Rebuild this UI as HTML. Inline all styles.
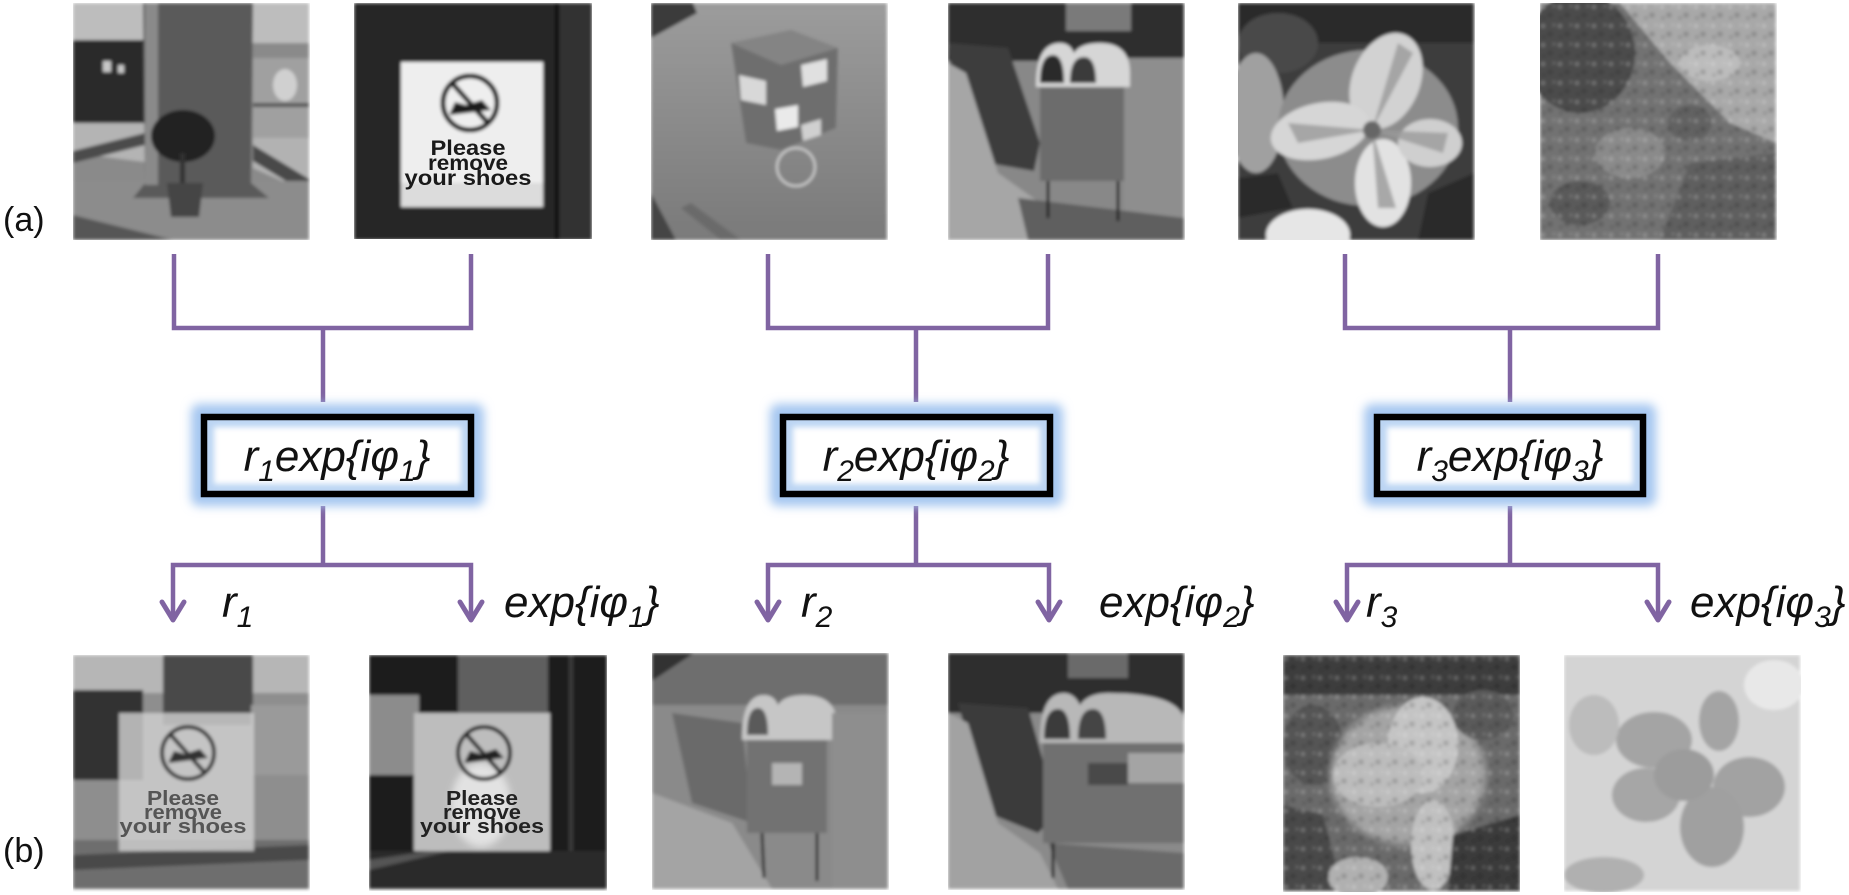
<!DOCTYPE html>
<html><head><meta charset="utf-8">
<style>
html,body{margin:0;padding:0;background:#fff;}
#c{position:relative;width:1849px;height:895px;overflow:hidden;background:#fff;}
svg{position:absolute;left:0;top:0;}
</style></head>
<body><div id="c">
<svg width="1849" height="895" viewBox="0 0 1849 895" xmlns="http://www.w3.org/2000/svg">
<defs>
  <filter id="bl" x="-5%" y="-5%" width="110%" height="110%"><feGaussianBlur stdDeviation="1.6"/></filter>
  <filter id="bl3" x="-20%" y="-20%" width="140%" height="140%"><feGaussianBlur stdDeviation="3.5"/></filter>
  <filter id="glow" x="-20%" y="-40%" width="140%" height="180%"><feGaussianBlur stdDeviation="5"/></filter>
  <filter id="ib" x="-10%" y="-20%" width="120%" height="140%"><feGaussianBlur stdDeviation="3"/></filter>
  <clipPath id="cl"><rect x="0" y="0" width="237" height="237"/></clipPath>
  <clipPath id="cl2"><rect x="0" y="0" width="238" height="236"/></clipPath>
  <pattern id="spk" width="17" height="19" patternUnits="userSpaceOnUse">
    <circle cx="3" cy="4" r="2.2" fill="#fff" opacity=".22"/>
    <circle cx="10" cy="12" r="2.8" fill="#000" opacity=".16"/>
    <circle cx="14" cy="3" r="1.5" fill="#fff" opacity=".18"/>
    <circle cx="4" cy="15" r="1.8" fill="#000" opacity=".14"/>
  </pattern>
</defs>

<!-- ===== TOP ROW IMAGES ===== -->
<!-- img1 -->
<g transform="translate(73,3)" clip-path="url(#cl)"><g filter="url(#bl)">
  <rect width="236" height="237" fill="#8a8a8a"/>
  <rect width="236" height="40" fill="#bdbdbd"/>
  <rect x="0" y="37" width="80" height="83" fill="#2a2a2a"/>
  <rect x="30" y="58" width="8" height="11" fill="#c8c8c8"/>
  <rect x="45" y="62" width="6" height="8" fill="#c8c8c8"/>
  <polygon points="0,120 80,120 80,160 0,150" fill="#b4b4b4"/>
  <polygon points="0,148 80,128 80,140 0,160" fill="#4c4c4c"/>
  <rect x="180" y="55" width="56" height="80" fill="#a0a0a0"/>
  <rect x="180" y="100" width="56" height="4" fill="#555"/>
  <ellipse cx="212" cy="82" rx="12" ry="16" fill="#d0d0d0"/>
  <polygon points="180,135 236,135 236,190 180,165" fill="#b2b2b2"/>
  <polygon points="180,142 236,176 236,192 180,158" fill="#484848"/>
  <rect x="0" y="178" width="236" height="59" fill="#8c8c8c"/>
  <polygon points="0,212 100,237 0,237" fill="#565656"/>
  <polygon points="70,0 180,0 178,180 196,195 60,195 72,180" fill="#5a5a5a"/>
  <rect x="72" y="0" width="13" height="182" fill="#8a8a8a"/>
  <ellipse cx="110" cy="133" rx="32" ry="26" fill="#242424"/>
  <rect x="107" y="150" width="5" height="32" fill="#333"/>
  <polygon points="94,180 130,180 126,214 98,214" fill="#444"/>
</g></g>

<!-- img2 -->
<g transform="translate(354,3)" clip-path="url(#cl2)">
  <g filter="url(#bl)">
  <rect width="238" height="237" fill="#252525"/>
  <rect x="205" y="0" width="33" height="237" fill="#303030"/>
  <rect x="201" y="0" width="4" height="237" fill="#111"/>
  <rect x="47" y="59" width="142" height="145" fill="#eeeeee"/>
  <rect x="47" y="180" width="142" height="24" fill="#dcdcdc"/>
  <circle cx="116" cy="100" r="27" fill="none" stroke="#1a1a1a" stroke-width="5"/>
  <path d="M96 110 L101 99 L112 102 L128 97 L137 107 L96 112 Z" fill="#1a1a1a"/>
  <line x1="98" y1="80" x2="134" y2="120" stroke="#1a1a1a" stroke-width="5"/>
  </g>
  <g font-family="Liberation Sans, Arial, sans-serif" font-weight="bold" font-size="21" fill="#1a1a1a" text-anchor="middle">
    <text x="114" y="152" textLength="75" lengthAdjust="spacingAndGlyphs">Please</text>
    <text x="114" y="167" textLength="80" lengthAdjust="spacingAndGlyphs">remove</text>
    <text x="114" y="182" textLength="127" lengthAdjust="spacingAndGlyphs">your shoes</text>
  </g>
</g>

<!-- img3 -->
<g transform="translate(651,3)" clip-path="url(#cl)"><g filter="url(#bl)">
  <defs><linearGradient id="g3" x1="0" y1="0" x2="0" y2="1"><stop offset="0" stop-color="#9c9c9c"/><stop offset="1" stop-color="#7a7a7a"/></linearGradient></defs>
  <rect width="236" height="237" fill="url(#g3)"/>
  <polygon points="0,0 42,0 46,10 0,35" fill="#3a3a3a"/>
  <polygon points="80,40 140,27 187,45 185,125 130,147 95,140" fill="#6e6e6e"/>
  <polygon points="80,40 140,27 187,45 130,62" fill="#848484"/>
  <polygon points="88,72 115,78 115,102 90,97" fill="#d8d8d8"/>
  <polygon points="150,62 176,56 176,78 152,84" fill="#e0e0e0"/>
  <polygon points="124,106 147,102 147,124 126,128" fill="#eaeaea"/>
  <polygon points="150,122 170,116 170,132 152,138" fill="#d0d0d0"/>
  <circle cx="145" cy="164" r="19" fill="none" stroke="#c8c8c8" stroke-width="2.5"/>
  <polygon points="0,190 25,237 0,237" fill="#444"/>
  <polygon points="40,200 90,237 70,237 30,205" fill="#6a6a6a"/>
</g></g>

<!-- img4 -->
<g transform="translate(948,3)" clip-path="url(#cl)"><g filter="url(#bl)">
  <rect width="236" height="237" fill="#888"/>
  <rect width="236" height="58" fill="#2f2f2f"/>
  <rect x="118" y="0" width="65" height="28" fill="#7a7a7a"/>
  <polygon points="0,40 60,45 92,140 86,168 40,160 8,100" fill="#3c3c3c"/>
  <polygon points="0,60 18,70 50,170 92,200 112,237 0,237" fill="#a6a6a6"/>
  <rect x="176" y="55" width="60" height="182" fill="#8e8e8e"/>
  <polygon points="70,195 236,215 236,237 80,237" fill="#5e5e5e"/>
  <rect x="92" y="78" width="84" height="100" fill="#6c6c6c"/>
  <path d="M88 82 Q88 40 112 40 Q122 40 126 50 Q132 40 152 40 Q182 40 182 70 L182 84 L88 84 Z" fill="#d6d6d6"/>
  <path d="M92 80 Q92 52 105 52 Q116 52 116 80 Z" fill="#2a2a2a"/>
  <path d="M122 80 Q122 54 136 54 Q148 54 148 80 Z" fill="#3a3a3a"/>
  <line x1="100" y1="178" x2="100" y2="215" stroke="#222" stroke-width="3"/>
  <line x1="170" y1="178" x2="170" y2="218" stroke="#222" stroke-width="3"/>
</g></g>

<!-- img5 -->
<g transform="translate(1238,3)" clip-path="url(#cl)"><g filter="url(#bl)">
  <rect width="236" height="237" fill="#3e3e3e"/>
  <rect width="236" height="40" fill="#2c2c2c"/>
  <ellipse cx="40" cy="40" rx="40" ry="30" fill="#4a4a4a"/>
  <ellipse cx="18" cy="110" rx="28" ry="60" fill="#a0a0a0"/>
  <ellipse cx="70" cy="232" rx="42" ry="26" fill="#e6e6e6"/>
  <ellipse cx="130" cy="125" rx="90" ry="78" fill="#8c8c8c"/>
  <ellipse cx="148" cy="78" rx="34" ry="50" fill="#d2d2d2" transform="rotate(22 148 78)"/>
  <ellipse cx="82" cy="128" rx="50" ry="28" fill="#d6d6d6" transform="rotate(-12 82 128)"/>
  <ellipse cx="145" cy="180" rx="28" ry="44" fill="#e2e2e2"/>
  <ellipse cx="192" cy="140" rx="32" ry="24" fill="#cfcfcf"/>
  <path d="M134 127 L160 40 L175 50 Z M134 127 L50 120 L60 140 Z M134 127 L140 205 L158 205 Z M134 127 L210 130 L205 150 Z" fill="#9a9a9a" opacity=".8"/>
  <circle cx="134" cy="127" r="9" fill="#666"/>
  <polygon points="190,190 236,170 236,237 180,237" fill="#2a2a2a"/>
  <polygon points="0,175 40,170 55,205 0,215" fill="#2c2c2c"/>
</g></g>

<!-- img6 -->
<g transform="translate(1540,3)" clip-path="url(#cl)"><g filter="url(#bl)">
  <rect width="236" height="237" fill="#727272"/>
  <polygon points="80,0 236,0 236,140 190,120 130,60" fill="#a8a8a8"/>
  <ellipse cx="40" cy="50" rx="55" ry="60" fill="#4c4c4c"/>
  <polygon points="150,160 236,150 236,237 120,237" fill="#5e5e5e"/>
  <ellipse cx="90" cy="150" rx="35" ry="25" fill="#8a8a8a"/>
  <ellipse cx="40" cy="200" rx="30" ry="22" fill="#5a5a5a"/>
  <ellipse cx="170" cy="60" rx="30" ry="18" fill="#bcbcbc"/>
  <ellipse cx="150" cy="120" rx="22" ry="18" fill="#626262"/>
  <rect width="236" height="237" fill="url(#spk)"/>
</g></g>

<!-- ===== BOTTOM ROW IMAGES ===== -->
<!-- b1 -->
<g transform="translate(73,655)" clip-path="url(#cl)">
  <g filter="url(#bl)">
  <rect width="236" height="234" fill="#8e8e8e"/>
  <rect width="236" height="38" fill="#b6b6b6"/>
  <rect x="0" y="35" width="70" height="90" fill="#333"/>
  <rect x="90" y="0" width="90" height="70" fill="#4a4a4a"/>
  <rect x="178" y="50" width="58" height="70" fill="#9a9a9a"/>
  <rect x="0" y="185" width="236" height="49" fill="#6e6e6e"/>
  <polygon points="0,200 236,190 236,205 0,215" fill="#4a4a4a"/>
  <rect x="46" y="58" width="135" height="138" fill="#d0d0d0" opacity="0.82"/>
  <circle cx="115" cy="98" r="26" fill="none" stroke="#333" stroke-width="4"/>
  <path d="M96 106 L101 96 L112 99 L127 94 L135 103 L96 108 Z" fill="#333"/>
  <line x1="98" y1="80" x2="132" y2="118" stroke="#333" stroke-width="4"/>
  </g>
  <g font-family="Liberation Sans, Arial, sans-serif" font-weight="bold" font-size="20" fill="#555" text-anchor="middle">
    <text x="110" y="150" textLength="72" lengthAdjust="spacingAndGlyphs">Please</text>
    <text x="110" y="164" textLength="78" lengthAdjust="spacingAndGlyphs">remove</text>
    <text x="110" y="178" textLength="127" lengthAdjust="spacingAndGlyphs">your shoes</text>
  </g>
</g>

<!-- b2 -->
<g transform="translate(369,655)" clip-path="url(#cl2)">
  <g filter="url(#bl)">
  <rect width="238" height="234" fill="#1e1e1e"/>
  <rect x="0" y="40" width="50" height="80" fill="#8c8c8c"/>
  <rect x="89" y="0" width="90" height="70" fill="#5e5e5e"/>
  <rect x="200" y="0" width="4" height="234" fill="#3a3a3a"/>
  <rect x="45" y="58" width="136" height="138" fill="#bdbdbd"/>
  <ellipse cx="112" cy="150" rx="30" ry="42" fill="#e2e2e2" filter="url(#bl3)"/>
  <circle cx="115" cy="98" r="26" fill="none" stroke="#222" stroke-width="4"/>
  <path d="M96 106 L101 96 L112 99 L127 94 L135 103 L96 108 Z" fill="#222"/>
  <line x1="98" y1="80" x2="132" y2="118" stroke="#222" stroke-width="4"/>
  <rect x="0" y="196" width="238" height="38" fill="#2a2a2a"/>
  <polygon points="0,205 60,196 80,196 0,215" fill="#555"/>
  </g>
  <g font-family="Liberation Sans, Arial, sans-serif" font-weight="bold" font-size="20" fill="#222" text-anchor="middle">
    <text x="113" y="150" textLength="72" lengthAdjust="spacingAndGlyphs">Please</text>
    <text x="113" y="164" textLength="78" lengthAdjust="spacingAndGlyphs">remove</text>
    <text x="113" y="178" textLength="124" lengthAdjust="spacingAndGlyphs">your shoes</text>
  </g>
</g>

<!-- b3 -->
<g transform="translate(652,653)" clip-path="url(#cl)"><g filter="url(#bl)">
  <rect width="236" height="236" fill="#8a8a8a"/>
  <rect width="236" height="52" fill="#6e6e6e"/>
  <polygon points="0,0 42,0 0,28" fill="#333"/>
  <polygon points="20,60 90,70 100,170 40,150" fill="#6a6a6a"/>
  <polygon points="0,140 80,170 120,236 0,236" fill="#a4a4a4"/>
  <rect x="95" y="85" width="80" height="95" fill="#727272"/>
  <rect x="120" y="110" width="30" height="22" fill="#b4b4b4"/>
  <path d="M90 85 Q90 42 112 42 Q122 42 126 52 Q132 42 152 42 Q185 42 185 72 L185 87 L90 87 Z" fill="#c6c6c6"/>
  <path d="M95 82 Q95 55 106 55 Q116 55 116 82 Z" fill="#5a5a5a"/>
  <rect x="180" y="60" width="56" height="176" fill="#8e8e8e"/>
  <line x1="110" y1="180" x2="112" y2="225" stroke="#333" stroke-width="3"/>
  <line x1="165" y1="180" x2="165" y2="228" stroke="#333" stroke-width="3"/>
</g></g>

<!-- b4 -->
<g transform="translate(948,653)" clip-path="url(#cl)"><g filter="url(#bl)">
  <rect width="236" height="236" fill="#8a8a8a"/>
  <rect width="236" height="60" fill="#2e2e2e"/>
  <rect x="120" y="0" width="60" height="25" fill="#6a6a6a"/>
  <polygon points="10,50 80,55 110,160 90,180 40,160" fill="#3a3a3a"/>
  <polygon points="0,60 20,70 50,170 92,200 110,236 0,236" fill="#a2a2a2"/>
  <rect x="95" y="85" width="141" height="105" fill="#707070"/>
  <rect x="140" y="110" width="40" height="22" fill="#4a4a4a"/>
  <rect x="180" y="100" width="56" height="30" fill="#a4a4a4"/>
  <path d="M92 88 Q92 40 116 40 Q126 40 132 52 Q140 40 160 40 Q236 40 236 70 L236 90 L92 90 Z" fill="#b8b8b8"/>
  <path d="M96 86 Q96 56 110 56 Q122 56 122 86 Z" fill="#3a3a3a"/>
  <path d="M130 86 Q130 56 145 56 Q158 56 158 86 Z" fill="#444"/>
  <polygon points="100,190 236,200 236,236 120,236" fill="#6a6a6a"/>
  <line x1="105" y1="190" x2="105" y2="225" stroke="#222" stroke-width="3"/>
</g></g>

<!-- b5 -->
<g transform="translate(1283,655)" clip-path="url(#cl)"><g filter="url(#bl)">
  <rect width="237" height="236" fill="#6a6a6a"/>
  <rect width="237" height="40" fill="#3c3c3c"/>
  <ellipse cx="30" cy="90" rx="30" ry="40" fill="#555"/>
  <ellipse cx="125" cy="120" rx="78" ry="70" fill="#a4a4a4" filter="url(#bl3)"/>
  <ellipse cx="140" cy="90" rx="35" ry="48" fill="#c4c4c4"/>
  <ellipse cx="95" cy="120" rx="45" ry="32" fill="#bcbcbc"/>
  <ellipse cx="150" cy="190" rx="22" ry="45" fill="#c0c0c0"/>
  <polygon points="170,180 237,160 237,236 165,236" fill="#3a3a3a"/>
  <polygon points="0,150 40,160 60,236 0,236" fill="#4a4a4a"/>
  <ellipse cx="75" cy="222" rx="30" ry="20" fill="#b0b0b0"/>
  <ellipse cx="200" cy="60" rx="30" ry="25" fill="#5a5a5a"/>
  <rect width="237" height="236" fill="url(#spk)"/>
</g></g>

<!-- b6 -->
<g transform="translate(1564,655)" clip-path="url(#cl)"><g filter="url(#bl)">
  <rect width="236" height="236" fill="#d4d4d4"/>
  <ellipse cx="90" cy="85" rx="38" ry="28" fill="#a4a4a4"/>
  <ellipse cx="155" cy="66" rx="20" ry="30" fill="#a4a4a4"/>
  <ellipse cx="185" cy="132" rx="36" ry="30" fill="#a2a2a2"/>
  <ellipse cx="148" cy="172" rx="32" ry="40" fill="#a0a0a0"/>
  <ellipse cx="82" cy="140" rx="34" ry="27" fill="#a6a6a6"/>
  <ellipse cx="120" cy="120" rx="30" ry="26" fill="#9c9c9c"/>
  <ellipse cx="40" cy="220" rx="40" ry="18" fill="#b0b0b0"/>
  <ellipse cx="30" cy="70" rx="25" ry="30" fill="#bcbcbc"/>
  <ellipse cx="210" cy="30" rx="30" ry="25" fill="#e8e8e8"/>
</g></g>

<!-- ===== CONNECTORS ===== -->
<g fill="none" stroke="#8064a2" stroke-width="4.5" stroke-linejoin="miter">
  <path d="M174 254 V328 H471 V254"/>
  <path d="M323 328 V402"/>
  <path d="M768 254 V328 H1048 V254"/>
  <path d="M916 328 V402"/>
  <path d="M1345 254 V328 H1658 V254"/>
  <path d="M1510 328 V402"/>

  <path d="M323 506 V565"/>
  <path d="M173 618 V565 H471 V618"/>
  <path d="M916 506 V565"/>
  <path d="M768 618 V565 H1049 V618"/>
  <path d="M1510 506 V565"/>
  <path d="M1347 618 V565 H1658 V618"/>
</g>
<g fill="none" stroke="#8064a2" stroke-width="5" stroke-linecap="round" stroke-linejoin="round">
  <polyline points="162,602 173,620 184,602"/>
  <polyline points="460,602 471,620 482,602"/>
  <polyline points="757,602 768,620 779,602"/>
  <polyline points="1038,602 1049,620 1060,602"/>
  <polyline points="1336,602 1347,620 1358,602"/>
  <polyline points="1647,602 1658,620 1669,602"/>
</g>

<!-- ===== BOXES ===== -->
<g>
  <rect x="191" y="404" width="293" height="102" rx="8" fill="#a4c6f0" filter="url(#glow)"/>
  <rect x="204" y="417" width="267" height="77" fill="#bcd5f3"/>
  <rect x="214" y="427" width="247" height="57" fill="#fff" filter="url(#ib)"/>
  <rect x="204" y="417" width="267" height="77" fill="none" stroke="#000" stroke-width="6.5"/>

  <rect x="770" y="404" width="293" height="102" rx="8" fill="#a4c6f0" filter="url(#glow)"/>
  <rect x="783" y="417" width="267" height="77" fill="#bcd5f3"/>
  <rect x="793" y="427" width="247" height="57" fill="#fff" filter="url(#ib)"/>
  <rect x="783" y="417" width="267" height="77" fill="none" stroke="#000" stroke-width="6.5"/>

  <rect x="1364" y="404" width="292" height="102" rx="8" fill="#a4c6f0" filter="url(#glow)"/>
  <rect x="1377" y="417" width="266" height="77" fill="#bcd5f3"/>
  <rect x="1387" y="427" width="246" height="57" fill="#fff" filter="url(#ib)"/>
  <rect x="1377" y="417" width="266" height="77" fill="none" stroke="#000" stroke-width="6.5"/>
</g>

<!-- ===== TEXT ===== -->
<g font-family="Liberation Sans, Arial, sans-serif" font-style="italic" font-size="44" fill="#111">
  <text x="337" y="471" text-anchor="middle">r<tspan font-size="30" dy="10">1</tspan><tspan dy="-10">exp{iφ</tspan><tspan font-size="30" dy="10">1</tspan><tspan dy="-10">}</tspan></text>
  <text x="916" y="471" text-anchor="middle">r<tspan font-size="30" dy="10">2</tspan><tspan dy="-10">exp{iφ</tspan><tspan font-size="30" dy="10">2</tspan><tspan dy="-10">}</tspan></text>
  <text x="1510" y="471" text-anchor="middle">r<tspan font-size="30" dy="10">3</tspan><tspan dy="-10">exp{iφ</tspan><tspan font-size="30" dy="10">3</tspan><tspan dy="-10">}</tspan></text>

  <text x="222" y="617">r<tspan font-size="30" dy="10">1</tspan></text>
  <text x="504" y="617">exp{iφ<tspan font-size="30" dy="10">1</tspan><tspan dy="-10">}</tspan></text>
  <text x="801" y="617">r<tspan font-size="30" dy="10">2</tspan></text>
  <text x="1099" y="617">exp{iφ<tspan font-size="30" dy="10">2</tspan><tspan dy="-10">}</tspan></text>
  <text x="1366" y="617">r<tspan font-size="30" dy="10">3</tspan></text>
  <text x="1690" y="617">exp{iφ<tspan font-size="30" dy="10">3</tspan><tspan dy="-10">}</tspan></text>
</g>
<g font-family="Liberation Sans, Arial, sans-serif" font-size="34" fill="#111">
  <text x="3" y="231">(a)</text>
  <text x="3" y="862">(b)</text>
</g>
</svg>
</div></body></html>
